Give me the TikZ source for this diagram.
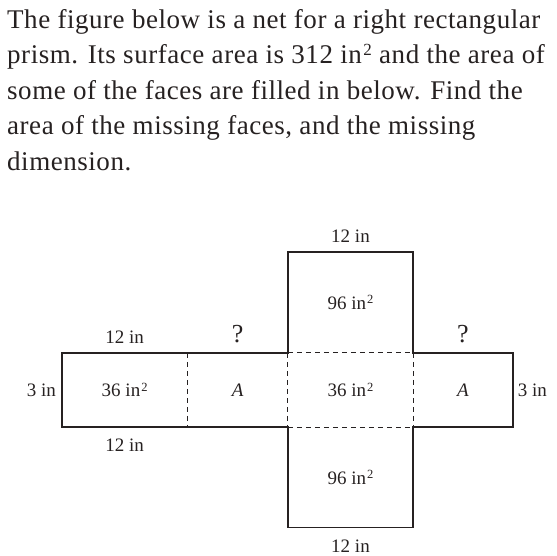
\documentclass[tikz,border=0pt]{standalone}
\usepackage{fontspec}
\setmainfont{Liberation Serif}
\usepackage{tikz}
\usetikzlibrary{positioning}
\definecolor{inkgray}{RGB}{38, 33, 33}
\newcommand{\sqin}[2]{in\kern0.06em\raisebox{#1}{\fontsize{#2}{#2}\selectfont 2}}

\begin{document}
\begin{tikzpicture}[x=1pt, y=1pt,
  face/.style={inner sep=0pt, font=\fontsize{19}{22}\selectfont, text=inkgray},
  dimlabel/.style={inner sep=0pt, font=\fontsize{19}{22}\selectfont, text=inkgray},
  asklabel/.style={inner sep=0pt, font=\fontsize{26}{30}\selectfont, text=inkgray},
  netline/.style={draw=inkgray, line width=1.8pt},
  foldline/.style={draw=inkgray, line width=1.1pt, dash pattern=on 5pt off 4pt}]
\useasboundingbox (0,0) rectangle (557,556);

% Question text
\node[anchor=north west, inner sep=0pt, align=left, text=inkgray,
      font=\fontsize{27}{35.5}\selectfont\addfontfeatures{LetterSpace=2}] (question) at (7, 547) {%
The figure below is a net for a right rectangular\\
prism. Its surface area is 312 \sqin{8pt}{17} and the area of\\
some of the faces are filled in below. Find the\\
area of the missing faces, and the missing\\
dimension.};

% Faces of the net
\node[face, minimum width=125pt, minimum height=74pt] (front) at (350.5, 166) {36 \sqin{5.5pt}{12.5}};
\node[face, minimum width=125pt, minimum height=100pt, above=0pt of front] (top) {96 \sqin{5.5pt}{12.5}};
\node[face, minimum width=125pt, minimum height=100pt, below=0pt of front] (bottom) {96 \sqin{5.5pt}{12.5}};
\node[face, minimum width=100pt, minimum height=74pt, left=0pt of front] (lend) {\textit{A}};
\node[face, minimum width=125pt, minimum height=74pt, left=0pt of lend] (lside) {36 \sqin{5.5pt}{12.5}};
\node[face, minimum width=99pt, minimum height=74pt, right=0pt of front] (rend) {\textit{A}};

% Outline
\draw[netline] (lside.north west) -- (top.south west) -- (top.north west) -- (top.north east)
  -- (top.south east) -- (rend.north east) -- (rend.south east) -- (bottom.north east)
  -- (bottom.south east) -- (bottom.south west) -- (bottom.north west) -- (lside.south west) -- cycle;

% Fold lines
\draw[foldline] (lside.north east) -- (lside.south east);
\draw[foldline] (front.north west) -- (front.south west);
\draw[foldline] (front.north east) -- (front.south east);
\draw[foldline] (front.north west) -- (front.north east);
\draw[foldline] (front.south west) -- (front.south east);

% Dimensions
\node[dimlabel, above=10pt of top] (toplen) {12 in};
\node[dimlabel, above=9pt of lside] (lsidetop) {12 in};
\node[dimlabel, below=12pt of lside] (lsidebot) {12 in};
\node[dimlabel, below=12pt of bottom] (botlen) {12 in};
\node[dimlabel, left=6pt of lside] (lheight) {3 in};
\node[dimlabel, right=5pt of rend] (rheight) {3 in};
\node[asklabel, above=10pt of lend] (lendq) {?};
\node[asklabel, above=10pt of rend] (rendq) {?};

\end{tikzpicture}
\end{document}
